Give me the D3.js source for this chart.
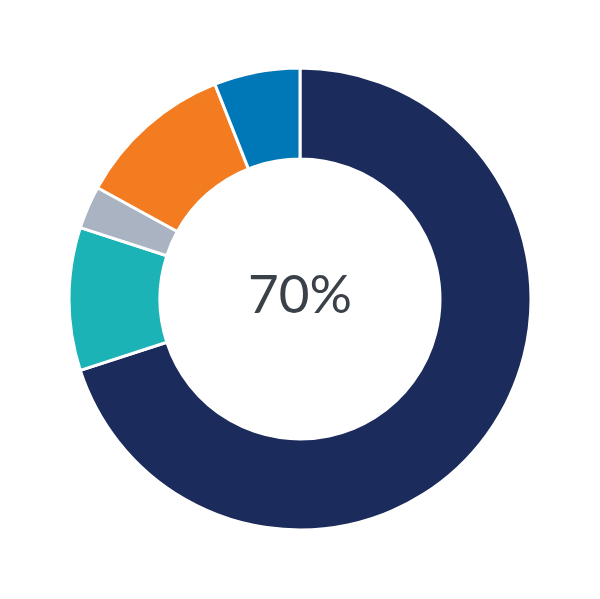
<!DOCTYPE html>
<html>
<head>
<meta charset="utf-8">
<script src="https://cdn.jsdelivr.net/npm/d3@7"></script>
<style>
  html, body { margin: 0; padding: 0; background: #fff; }
</style>
</head>
<body>
<svg id="chart"></svg>
<script>
const categories = ["A", "B", "C", "D", "E"];
const values = [70, 10, 3, 11, 6];
const colors = ["#1b2b5b", "#1bb3b5", "#a9b3c1", "#f47c20", "#0077b6"];
const centerLabel = "70%";

const width = 600, height = 599;
const cx = 300, cy = 299;
const outerR = 231, innerR = 140;

const svg = d3.select("#chart").attr("width", width).attr("height", height);
const g = svg.append("g").attr("transform", `translate(${cx},${cy})`);

const data = categories.map((c, i) => ({ name: c, value: values[i], color: colors[i] }));

const pie = d3.pie().value(d => d.value).sort(null);
const arc = d3.arc().innerRadius(innerR).outerRadius(outerR);

g.selectAll("path")
  .data(pie(data))
  .enter()
  .append("path")
  .attr("d", arc)
  .attr("fill", d => d.data.color)
  .attr("stroke", "#fff")
  .attr("stroke-width", 3);

g.append("text")
  .attr("x", 0)
  .attr("y", 14)
  .attr("text-anchor", "middle")
  .attr("font-family", "Lato, sans-serif")
  .attr("font-size", "53px")
  .attr("fill", "#3a4149")
  .text(centerLabel);
</script>
</body>
</html>
